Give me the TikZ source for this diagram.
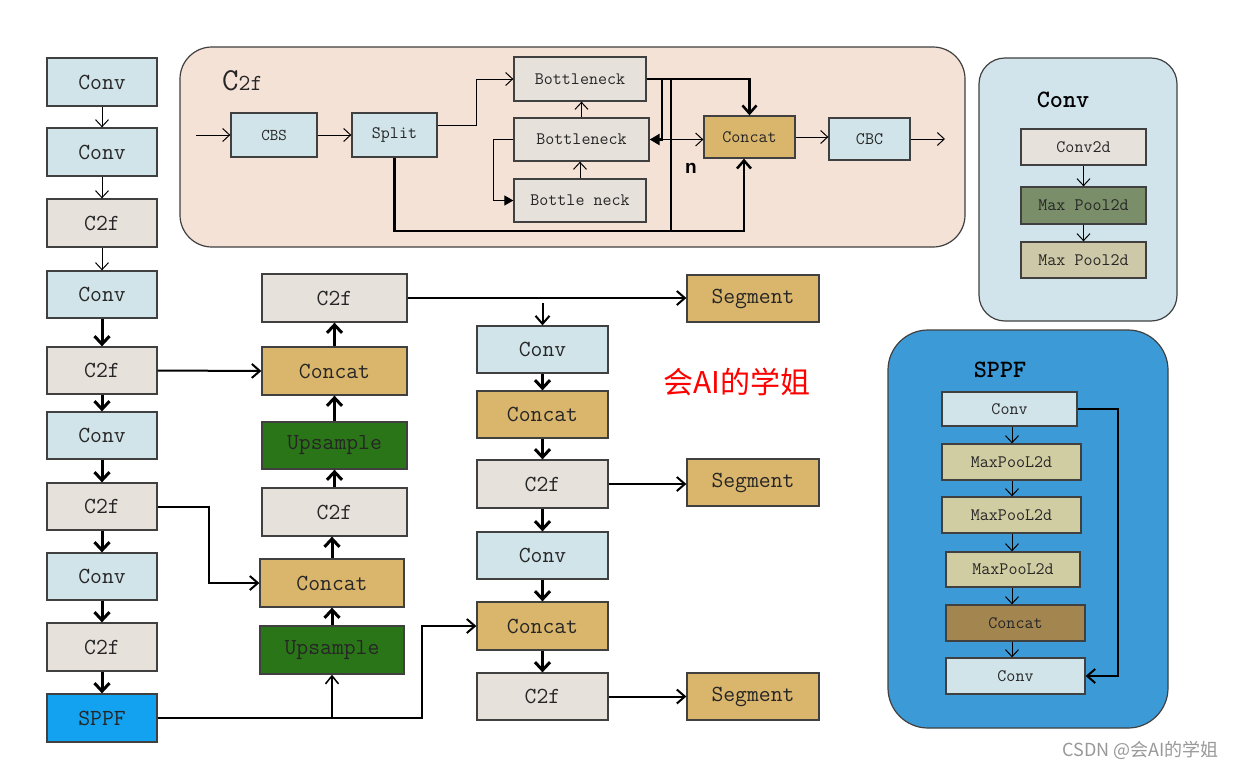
\documentclass[tikz,border=0pt]{standalone}
\usepackage{fontspec}
\newfontfamily\lsans{Liberation Sans}
\newfontfamily\cjk{Noto Sans CJK SC}
\newcommand\mono{\ttfamily}
\usetikzlibrary{arrows.meta}
\definecolor{cblue}{HTML}{D1E4EA}
\definecolor{cgray}{HTML}{E6E1DB}
\definecolor{cgold}{HTML}{DAB56C}
\definecolor{cgreen}{HTML}{2B7519}
\definecolor{csppf}{HTML}{12A2F0}
\definecolor{cpanelA}{HTML}{F4E2D6}
\definecolor{cpanelB}{HTML}{D1E4EB}
\definecolor{cpanelC}{HTML}{3C9BD7}
\definecolor{cmpa}{HTML}{D1CDA3}
\definecolor{cmpg}{HTML}{7A8F69}
\definecolor{cmpb}{HTML}{CDC8A7}
\definecolor{ccat}{HTML}{A3854F}
\definecolor{cline}{HTML}{404040}
\tikzset{
  blk/.style={draw=cline, line width=1.3pt, inner sep=0pt, text=black!85,
    font=\mono\fontsize{23}{26}\selectfont},
  sblk/.style={blk, font=\mono\fontsize{17.5}{20}\selectfont},
  panel/.style={draw=black!75, line width=1.2pt, inner sep=0pt},
  tarr/.style={line width=1pt, -{Straight Barb[length=7pt,width=13pt]}},
  marr/.style={line width=2pt, -{Straight Barb[length=8pt,width=14pt,line width=2pt]}},
  karr/.style={line width=3pt, -{Straight Barb[length=8pt,width=15pt,line width=3pt]}},
  tline/.style={line width=2.5pt},
}
\begin{document}
\begin{tikzpicture}[x=1pt,y=-1pt]
\useasboundingbox[fill=white] (0,0) rectangle (1234,769);

% ---------- panels ----------
\node[panel, fill=cpanelA, rounded corners=32pt, minimum width=785pt, minimum height=200pt] (pC2f) at (572.5,147) {};
\node[panel, fill=cpanelB, rounded corners=26pt, minimum width=198pt, minimum height=263pt] (pConv) at (1078,189.5) {};
\node[panel, fill=cpanelC, rounded corners=40pt, minimum width=280pt, minimum height=398pt] (pSPPF) at (1028,529) {};

% ---------- left column ----------
\node[blk, fill=cblue, minimum width=110pt, minimum height=48pt] (L1) at (102,82) {Conv};
\node[blk, fill=cblue, minimum width=110pt, minimum height=48pt] (L2) at (102,152) {Conv};
\node[blk, fill=cgray, minimum width=110pt, minimum height=48pt] (L3) at (102,223) {C2f};
\node[blk, fill=cblue, minimum width=110pt, minimum height=47pt] (L4) at (102,294.5) {Conv};
\node[blk, fill=cgray, minimum width=110pt, minimum height=47pt] (L5) at (102,370.5) {C2f};
\node[blk, fill=cblue, minimum width=110pt, minimum height=47pt] (L6) at (102,435.5) {Conv};
\node[blk, fill=cgray, minimum width=110pt, minimum height=47pt] (L7) at (102,506.5) {C2f};
\node[blk, fill=cblue, minimum width=110pt, minimum height=47pt] (L8) at (102,576.5) {Conv};
\node[blk, fill=cgray, minimum width=110pt, minimum height=48pt] (L9) at (102,647) {C2f};
\node[blk, fill=csppf, minimum width=110pt, minimum height=48pt] (L10) at (102,718) {SPPF};

\draw[tarr] (L1.south) -- (L2.north);
\draw[tarr] (L2.south) -- (L3.north);
\draw[tarr] (L3.south) -- (L4.north);
\draw[karr] (L4.south) -- (L5.north);
\draw[karr] (L5.south) -- (L6.north);
\draw[karr] (L6.south) -- (L7.north);
\draw[karr] (L7.south) -- (L8.north);
\draw[karr] (L8.south) -- (L9.north);
\draw[karr] (L9.south) -- (L10.north);

% ---------- middle column ----------
\node[blk, fill=cgray, minimum width=145pt, minimum height=48pt] (M1) at (334.5,298) {C2f};
\node[blk, fill=cgold, minimum width=145pt, minimum height=48pt] (M2) at (334.5,371) {Concat};
\node[blk, fill=cgreen, minimum width=145pt, minimum height=47pt] (M3) at (334.5,445.5) {Upsample};
\node[blk, fill=cgray, minimum width=145pt, minimum height=48pt] (M4) at (334.5,512) {C2f};
\node[blk, fill=cgold, minimum width=144pt, minimum height=48pt] (M5) at (332,583) {Concat};
\node[blk, fill=cgreen, minimum width=144pt, minimum height=48pt] (M6) at (332,650) {Upsample};

\draw[karr] (M6.north) -- (M6.north |- M5.south);
\draw[karr] (M5.north) -- (M5.north |- M4.south);
\draw[karr] (M4.north) -- (M4.north |- M3.south);
\draw[karr] (M3.north) -- (M3.north |- M2.south);
\draw[karr] (M2.north) -- (M2.north |- M1.south);

% ---------- right column ----------
\node[blk, fill=cblue, minimum width=131pt, minimum height=47pt] (R1) at (542.5,349.5) {Conv};
\node[blk, fill=cgold, minimum width=131pt, minimum height=47pt] (R2) at (542.5,414.5) {Concat};
\node[blk, fill=cgray, minimum width=131pt, minimum height=48pt] (R3) at (542.5,484) {C2f};
\node[blk, fill=cblue, minimum width=131pt, minimum height=47pt] (R4) at (542.5,555.5) {Conv};
\node[blk, fill=cgold, minimum width=131pt, minimum height=48pt] (R5) at (542.5,626) {Concat};
\node[blk, fill=cgray, minimum width=131pt, minimum height=47pt] (R6) at (542.5,696.5) {C2f};

\node[blk, fill=cgold, minimum width=132pt, minimum height=47pt] (S1) at (753,298.5) {Segment};
\node[blk, fill=cgold, minimum width=132pt, minimum height=47pt] (S2) at (753,482.5) {Segment};
\node[blk, fill=cgold, minimum width=132pt, minimum height=47pt] (S3) at (753,696.5) {Segment};

\draw[karr] (R1.south) -- (R2.north);
\draw[karr] (R2.south) -- (R3.north);
\draw[karr] (R3.south) -- (R4.north);
\draw[karr] (R4.south) -- (R5.north);
\draw[karr] (R5.south) -- (R6.north);

% ---------- cross connectors ----------
\draw[marr] (L5.east) -- (M2.west);
\draw[marr] (L7.east) -- ++(51,0) |- (M5.west);
\coordinate (sppfR) at (422,718);
\coordinate (sppfU) at (332,718);
\draw[marr] (L10.east) -- (sppfR) |- (R5.west);
\draw[line width=1.5pt, -{Straight Barb[length=8pt,width=13pt,line width=1.5pt]}] (sppfU) -- (M6.south);
\draw[marr] (M1.east) -- (M1.east -| S1.west);
\coordinate (r1in) at (542.5,303);
\draw[marr] (r1in) -- (R1.north);
\draw[marr] (R3.east) -- (R3.east -| S2.west);
\draw[marr] (R6.east) -- (S3.west);

% ---------- watermark ----------
\node[text=red, font=\cjk\fontsize{30}{34}\selectfont, inner sep=0pt] (wm) at (737,382) {会AI的学姐};
\node[text=black!40, font=\cjk\fontsize{18}{21}\selectfont, inner sep=0pt, anchor=east] (wm2) at (1219,750) {CSDN @会AI的学姐};

% ---------- C2f panel ----------
\node[inner sep=0pt, anchor=west, text=black!85] (tC2f) at (222,81) {\mono{\fontsize{32}{34}\selectfont C}{\fontsize{23}{26}\selectfont 2f}};
\node[sblk, fill=cblue, minimum width=86pt, minimum height=44pt, font=\mono\fontsize{16.5}{19}\selectfont] (CBS) at (274,135) {CBS};
\node[sblk, fill=cblue, minimum width=85pt, minimum height=44pt] (Split) at (394.5,135) {Split};
\node[sblk, fill=cgray, minimum width=132pt, minimum height=44pt] (BN1) at (580,79) {Bottleneck};
\node[sblk, fill=cgray, minimum width=135pt, minimum height=43pt] (BN2) at (581.5,139.5) {Bottleneck};
\node[sblk, fill=cgray, minimum width=132pt, minimum height=43pt] (BN3) at (580,200.5) {Bottle neck};
\node[sblk, fill=cgold, minimum width=91pt, minimum height=42pt] (Cat) at (749.5,137) {Concat};
\node[sblk, fill=cblue, minimum width=81pt, minimum height=42pt] (CBC) at (869.5,139) {CBC};
\node[inner sep=0pt, font=\lsans\bfseries\fontsize{19}{22}\selectfont] (nlab) at (691,168) {n};

\coordinate (inC) at (196,135);
\coordinate (outC) at (945,139);
\draw[tarr] (inC) -- (CBS.west);
\draw[tarr] (CBS.east) -- (Split.west);
\draw[tarr] ([yshift=10pt]Split.east) -- ++(39,0) |- (BN1.west);
\draw[tarr] (BN3.north) -- (BN3.north |- BN2.south);
\draw[tarr] (BN2.north) -- (BN2.north |- BN1.south);
\draw[line width=1.2pt, -{Triangle[length=9pt,width=10pt]}] (BN2.west) -- ++(-20,0) |- (BN3.west);
\draw[tarr] (BN2.east) -- (BN2.east -| Cat.west);
\draw[tarr] (Cat.east) -- (Cat.east -| CBC.west);
\draw[tarr] (CBC.east) -- (outC);
% thick links
\draw[tline, -{Straight Barb[length=8pt,width=14pt,line width=2.5pt]}] (BN1.east) -| (Cat.north);
\coordinate (va) at (662,79);
\coordinate (va2) at (662,139.5);
\draw[tline, -{Triangle[length=10pt,width=11pt]}] (va) -- (va2) -- (BN2.east);
\coordinate (vb) at (671,79);
\coordinate (vb2) at (671,231);
\draw[tline] (vb) -- (vb2);
\coordinate (bot) at (394.5,231);
\coordinate (catb) at (744,231);
\draw[tline, -{Straight Barb[length=8pt,width=14pt,line width=2.5pt]}] (Split.south) -- (bot) -- (catb) -- (catb |- Cat.south);

% ---------- Conv panel ----------
\node[inner sep=0pt, font=\mono\bfseries\fontsize{25}{28}\selectfont] (tConv) at (1063,100) {Conv};
\node[sblk, fill=cgray, minimum width=125pt, minimum height=36pt] (K1) at (1083.5,147) {Conv2d};
\node[sblk, fill=cmpg, minimum width=125pt, minimum height=37pt] (K2) at (1083.5,205.5) {Max Pool2d};
\node[sblk, fill=cmpb, minimum width=125pt, minimum height=36pt] (K3) at (1083.5,260) {Max Pool2d};
\draw[tarr] (K1.south) -- (K2.north);
\draw[tarr] (K2.south) -- (K3.north);

% ---------- SPPF panel ----------
\node[inner sep=0pt, font=\mono\bfseries\fontsize{25}{28}\selectfont] (tSPPF) at (1000,369.5) {SPPF};
\node[sblk, fill=cblue, minimum width=135pt, minimum height=34pt] (P1) at (1009.5,409) {Conv};
\node[sblk, fill=cmpa, minimum width=139pt, minimum height=36pt] (P2) at (1011.5,462) {MaxPooL2d};
\node[sblk, fill=cmpa, minimum width=139pt, minimum height=36pt] (P3) at (1011.5,515) {MaxPooL2d};
\node[sblk, fill=cmpa, minimum width=134pt, minimum height=35pt] (P4) at (1013,569.5) {MaxPooL2d};
\node[sblk, fill=ccat, minimum width=139pt, minimum height=36pt] (P5) at (1015.5,623) {Concat};
\node[sblk, fill=cblue, minimum width=139pt, minimum height=36pt] (P6) at (1015.5,676) {Conv};
\coordinate (px) at (1012,0);
\draw[tarr] (P1.south -| px) -- (P2.north -| px);
\draw[tarr] (P2.south -| px) -- (P3.north -| px);
\draw[tarr] (P3.south -| px) -- (P4.north -| px);
\draw[tarr] (P4.south -| px) -- (P5.north -| px);
\draw[tarr] (P5.south -| px) -- (P6.north -| px);
\draw[line width=2pt, -{Straight Barb[length=8pt,width=14pt,line width=2pt]}] (P1.east) -- ++(40,0) |- (P6.east);
\end{tikzpicture}
\end{document}
